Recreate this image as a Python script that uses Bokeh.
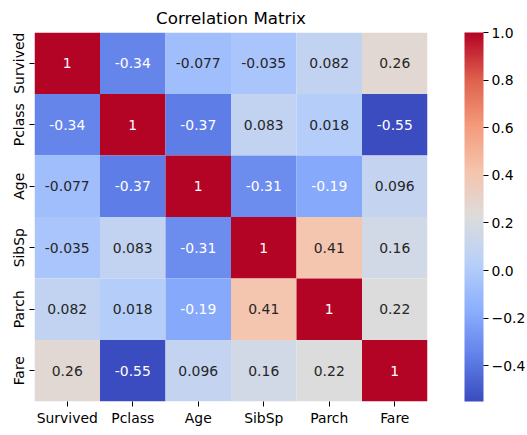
import math
from bokeh.plotting import figure
from bokeh.models import (ColumnDataSource, LinearColorMapper, ColorBar, FixedTicker,
                          FactorRange)
from bokeh.core.properties import value
from bokeh.embed import file_html
from bokeh.resources import INLINE

# ---- data ----
variables = ["Survived", "Pclass", "Age", "SibSp", "Parch", "Fare"]
row_survived = [1.0, -0.34, -0.077, -0.035, 0.082, 0.26]
row_pclass = [-0.34, 1.0, -0.37, 0.083, 0.018, -0.55]
row_age = [-0.077, -0.37, 1.0, -0.31, -0.19, 0.096]
row_sibsp = [-0.035, 0.083, -0.31, 1.0, 0.41, 0.16]
row_parch = [0.082, 0.018, -0.19, 0.41, 1.0, 0.22]
row_fare = [0.26, -0.55, 0.096, 0.16, 0.22, 1.0]
cbar_ticks = [-0.4, -0.2, 0.0, 0.2, 0.4, 0.6, 0.8, 1.0]
cbar_labels = ["\u22120.4", "\u22120.2", "0.0", "0.2", "0.4", "0.6", "0.8", "1.0"]
title_text = "Correlation Matrix"

rows = [row_survived, row_pclass, row_age, row_sibsp, row_parch, row_fare]

# ---- coolwarm palette ----
anchors = [(59, 76, 192), (98, 130, 234), (141, 176, 254), (184, 208, 249),
           (221, 220, 220), (245, 196, 173), (244, 154, 123), (222, 96, 77),
           (180, 4, 38)]
N = 256
palette = []
for i in range(N):
    t = i / (N - 1) * (len(anchors) - 1)
    k = min(int(t), len(anchors) - 2)
    f = t - k
    c = [round(anchors[k][j] + (anchors[k + 1][j] - anchors[k][j]) * f) for j in range(3)]
    palette.append("#%02x%02x%02x" % tuple(c))

all_vals = [v for r in rows for v in r]
low, high = min(all_vals), max(all_vals)
mapper = LinearColorMapper(palette=palette, low=low, high=high)


def lum(hexc):
    rgb = [int(hexc[i:i + 2], 16) / 255 for i in (1, 3, 5)]
    rgb = [c / 12.92 if c <= 0.03928 else ((c + 0.055) / 1.055) ** 2.4 for c in rgb]
    return 0.2126 * rgb[0] + 0.7152 * rgb[1] + 0.0722 * rgb[2]


xs, ys, vals, labels, tcolors = [], [], [], [], []
for r, rowname in enumerate(variables):
    for c, colname in enumerate(variables):
        v = rows[r][c]
        xs.append(colname)
        ys.append(rowname)
        vals.append(v)
        labels.append("%.2g" % v)
        idx = min(N - 1, max(0, int((v - low) / (high - low) * N)))
        tcolors.append("#262626" if lum(palette[idx]) > 0.408 else "#ffffff")

src = ColumnDataSource(dict(x=xs, y=ys, v=vals, label=labels, tc=tcolors))

p = figure(frame_width=393, frame_height=369, output_backend="svg", toolbar_location=None,
           x_range=FactorRange(*variables), y_range=FactorRange(*variables[::-1]),
           min_border_left=34, min_border_right=0, min_border_top=24, min_border_bottom=0)

p.rect(x="x", y="y", width=1, height=1, source=src,
       fill_color={"field": "v", "transform": mapper}, line_color=None)
p.text(x="x", y="y", text="label", source=src, text_color="tc",
       text_align="center", text_baseline="middle",
       text_font=value("DejaVu Sans"), text_font_size="13.9px")

p.title.text = title_text
p.title.align = "center"
p.title.text_font = "DejaVu Sans"
p.title.text_font_size = "16.7px"
p.title.text_font_style = "normal"
p.title.text_color = "#000000"

p.grid.grid_line_color = None
p.outline_line_color = None
for ax in (p.xaxis, p.yaxis):
    ax.axis_line_color = None
    ax.major_tick_line_color = "#000000"
    ax.major_tick_out = 5
    ax.major_tick_in = 0
    ax.major_label_text_font = "DejaVu Sans"
    ax.major_label_text_font_size = "13.9px"
    ax.major_label_text_color = "#000000"
    ax.major_label_standoff = 3
p.yaxis.major_label_orientation = "vertical"

cb = ColorBar(color_mapper=mapper, ticker=FixedTicker(ticks=cbar_ticks),
              major_label_overrides={t: l for t, l in zip(cbar_ticks, cbar_labels)},
              width=19, height=369, padding=0, margin=0, location=(37, 0),
              major_tick_in=0, major_tick_out=5, major_tick_line_color="#000000",
              major_label_text_font="DejaVu Sans", major_label_text_font_size="13.9px",
              major_label_text_color="#000000", label_standoff=3,
              bar_line_color=None, border_line_color=None, background_fill_color=None)
p.add_layout(cb, "right")

open("out.html", "w").write(file_html(p, INLINE))
